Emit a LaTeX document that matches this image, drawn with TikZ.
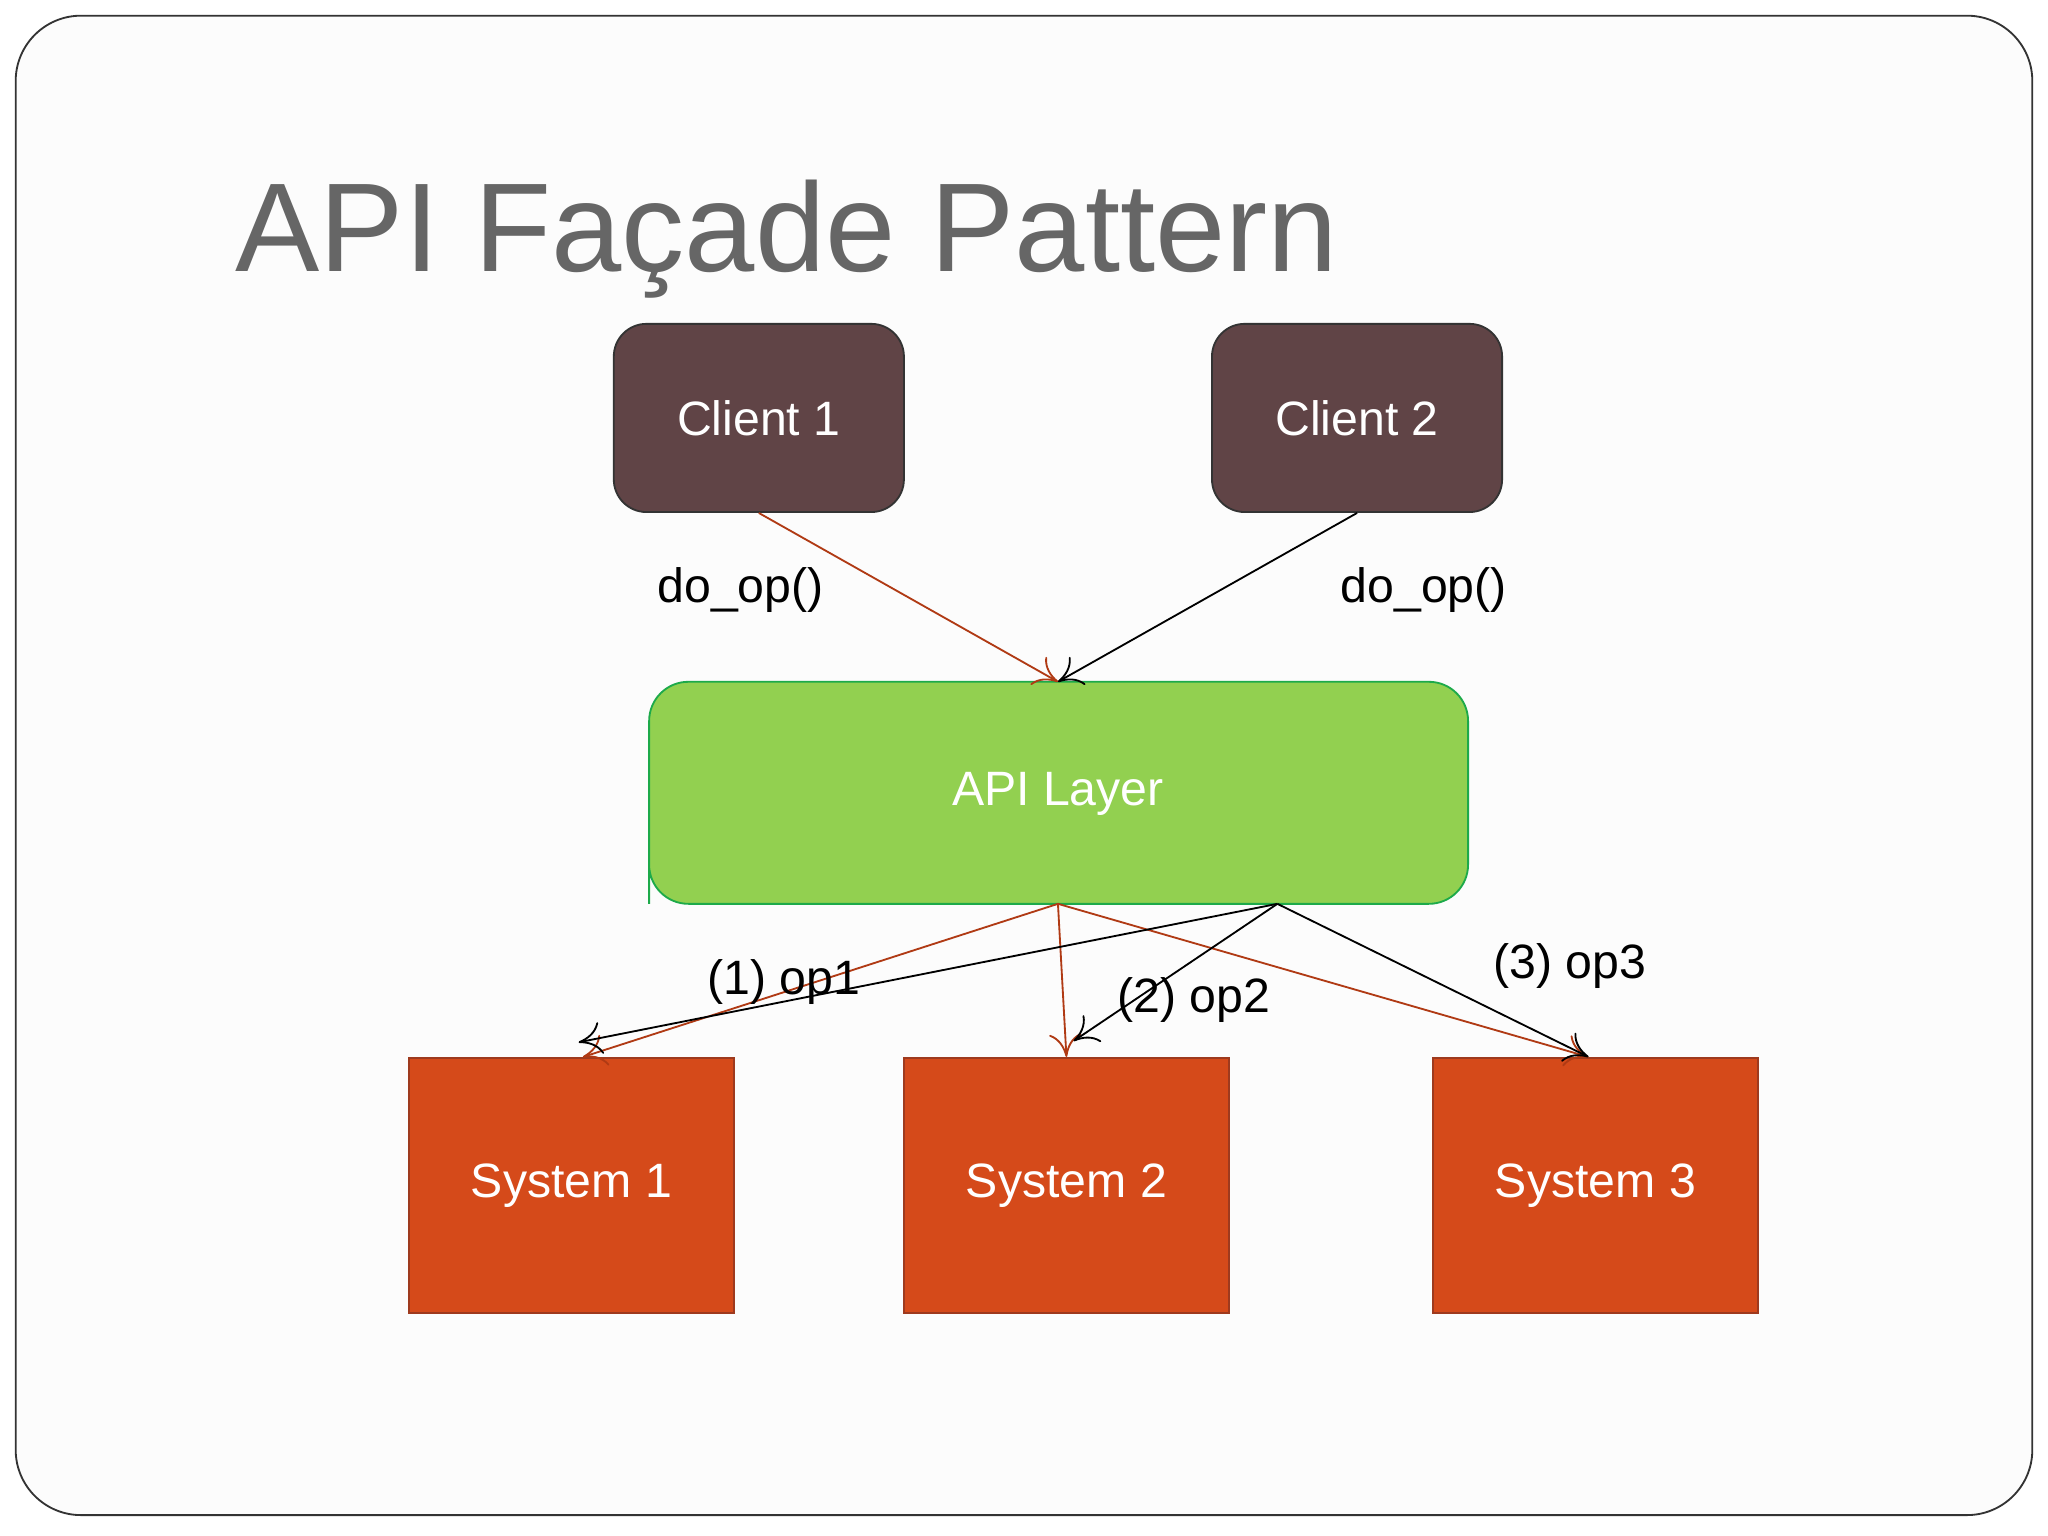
\documentclass[tikz,border=0pt]{standalone}
\usepackage{fontspec}
\setmainfont{Liberation Sans}
\usetikzlibrary{arrows.meta,positioning}
\definecolor{client}{HTML}{604446}
\definecolor{api}{HTML}{92D050}
\definecolor{apiedge}{HTML}{1DAA4A}
\definecolor{sys}{HTML}{D54A1A}
\definecolor{sysedge}{HTML}{9E3A1E}
\definecolor{redline}{HTML}{B03A14}
\definecolor{titlec}{HTML}{666666}
\begin{document}
\begin{tikzpicture}[x=0.01cm,y=-0.01cm,
  client/.style={draw=black!80,fill=client,rounded corners=0.25cm,minimum width=2.22cm,minimum height=1.44cm,text=white,font=\fontsize{10.5}{12}\selectfont,inner sep=0},
  sys/.style={draw=sysedge,fill=sys,minimum width=2.49cm,minimum height=1.95cm,text=white,font=\fontsize{10.5}{12}\selectfont,inner sep=0},
  lbl/.style={font=\fontsize{10.5}{12}\selectfont,text=black},
  rarr/.style={draw=redline,-{To[length=5pt,width=7pt]}},
  barr/.style={draw=black,-{To[length=5pt,width=7pt]}}]
\useasboundingbox (0,0) rectangle (1568,1176);
\fill[white] (0,0) rectangle (1568,1176);
\draw[black!80,fill=black!1,rounded corners=0.5cm] (12,12) rectangle (1556,1160);
\node[anchor=base west,text=titlec,font=\fontsize{27.5}{30}\selectfont] (title) at (168,208) {API Façade Pattern};
\node[client] (c1) at (581,320) {Client 1};
\node[client] (c2) at (1039,320) {Client 2};
\draw[apiedge,fill=api] (497,692) -- (497,552) [rounded corners=0.3cm] -- (497,522) -- (1124,522) -- (1124,692) -- (497,692) [sharp corners] -- cycle;
\node[text=white,font=\fontsize{10.5}{12}\selectfont] (api) at (810,608) {API Layer};
\coordinate (apitop) at (810,522);
\coordinate (apib) at (810,692);
\coordinate (apib2) at (978,692);
\node[sys] (s1) at (437.5,907.5) {System 1};
\node[sys] (s2) at (816.5,907.5) {System 2};
\node[sys] (s3) at (1221.5,907.5) {System 3};
\draw[rarr] (c1.south) -- (apitop);
\draw[barr] (c2.south) -- (apitop);
\draw[rarr] (apib) -- ([xshift=2.5]s1.north);
\draw[rarr] (apib) -- (s2.north);
\draw[rarr] (apib) -- ([xshift=-1.5]s3.north);
\draw[barr] (apib2) -- (443,798);
\draw[barr] (apib2) -- (822,797);
\draw[barr] (apib2) -- ([xshift=-1.5]s3.north);
\node[lbl] (l1) at (567,452) {do\_op()};
\node[lbl] (l2) at (1090,452) {do\_op()};
\node[lbl] (o1) at (600,752) {(1) op1};
\node[lbl] (o2) at (914,766) {(2) op2};
\node[lbl] (o3) at (1202,740) {(3) op3};
\end{tikzpicture}
\end{document}
